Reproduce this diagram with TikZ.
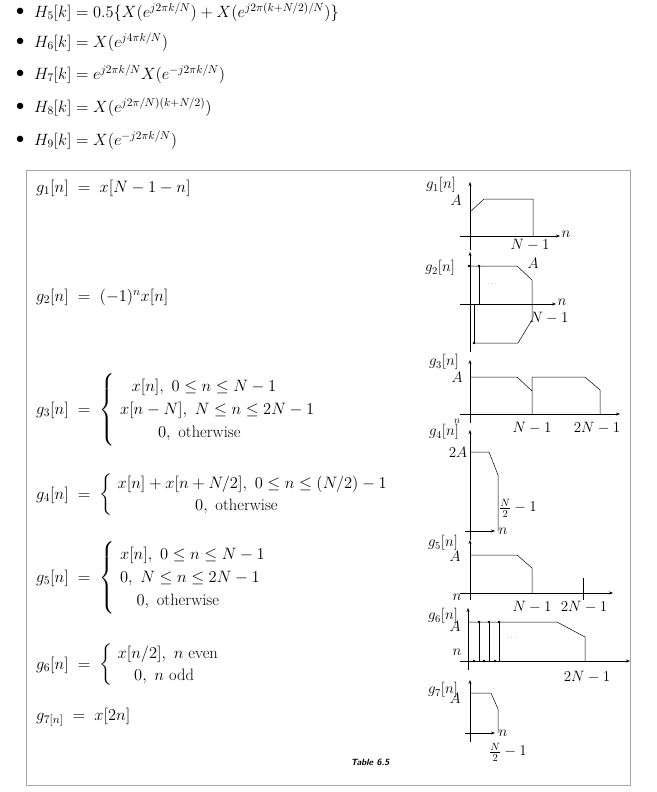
\RequirePackage{fix-cm}
\documentclass[tikz,border=0pt]{standalone}
\usepackage{amsmath}
\usetikzlibrary{arrows.meta}
\begin{document}
\begin{tikzpicture}[x=1pt,y=-1pt,
  lbl/.style={inner sep=0pt,font=\fontsize{15}{18}\selectfont},
  eq/.style={inner sep=0pt,anchor=west,font=\fontsize{16.5}{19}\selectfont},
  top/.style={inner sep=0pt,anchor=west,font=\fontsize{16.4}{19}\selectfont},
  ax/.style={line width=0.5pt,-{Stealth[length=4pt,width=3pt]}},
  sig/.style={line width=0.5pt},
  dot/.style={circle,fill,inner sep=0pt,minimum size=2.6pt}]
\useasboundingbox (0,0) rectangle (656,792);
% top bullet list
\foreach \y/\t [count=\i] in {12/{H_5[k]=0.5\{X(e^{j2\pi k/N})+X(e^{j2\pi(k+N/2)/N})\}},
  42/{H_6[k]=X(e^{j4\pi k/N})},
  74/{H_7[k]=e^{j2\pi k/N}X(e^{-j2\pi k/N})},
  107/{H_8[k]=X(e^{j2\pi/N)(k+N/2)})},
  140/{H_9[k]=X(e^{-j2\pi k/N})}}{
  \node[top] (b\i) at (16,\y) {$\bullet$};
  \node[top] (h\i) at (34,\y) {$\t$};
}
% frame
\draw[gray!70,line width=0.8pt] (26,170) rectangle (630,785);
% left formulas
\node[eq] (f1) at (36,188) {$g_1[n]\;=\;x[N-1-n]$};
\node[eq] (f2) at (36,297) {$g_2[n]\;=\;(-1)^nx[n]$};
\node[eq] (f3) at (36,410) {$g_3[n]\;=\;\begin{cases}\quad x[n],\ 0\le n\le N-1\\ \ x[n-N],\ N\le n\le 2N-1\\ \qquad\ \ 0,\ \text{otherwise}\end{cases}$};
\node[eq] (f4) at (36,495) {$g_4[n]\;=\;\begin{cases}\ x[n]+x[n+N/2],\ 0\le n\le (N/2)-1\\ \qquad\qquad\quad 0,\ \text{otherwise}\end{cases}$};
\node[eq] (f5) at (36,578) {$g_5[n]\;=\;\begin{cases}\ x[n],\ 0\le n\le N-1\\ \ 0,\ N\le n\le 2N-1\\ \quad\ 0,\ \text{otherwise}\end{cases}$};
\node[eq] (f6) at (36,665) {$g_6[n]\;=\;\begin{cases}\ x[n/2],\ n\text{ even}\\ \quad\ 0,\ n\text{ odd}\end{cases}$};
\node[eq] (f7) at (36,717) {$g_{7[n]}\;=\;x[2n]$};
\node[inner sep=0pt,font=\sffamily\bfseries\itshape\small] (cap) at (370,762) {Table 6.5};
% g1
\draw[ax] (470,250) -- (470,182);
\draw[ax] (460,236) -- (560,236);
\draw[sig] (470,212) -- (484,199) -- (533,199) -- (533,236);
\node[lbl] at (441,185) {$g_1[n]$};
\node[lbl] at (456,200) {$A$};
\node[lbl] at (530,245) {$N-1$};
\node[lbl] at (566,234) {$n$};
% g2
\draw[ax] (470,352) -- (470,252);
\draw[ax] (460,304) -- (556,304);
\draw[sig] (469,266) -- (517,266) -- (532,280) -- (532,320) -- (518,343) -- (474,343);
\draw[sig] (479,266) -- (479,304) (474,304) -- (474,343);
\node[dot] at (469,266) {}; \node[dot] at (479,266) {}; \node[dot] at (474,343) {};
\node[lbl,font=\tiny] at (493,284) {$\cdots$};
\node[lbl] at (440,268) {$g_2[n]$};
\node[lbl] at (533,263) {$A$};
\node[lbl] at (549,318) {$N-1$};
\node[lbl] at (562,302) {$n$};
% g3
\draw[ax] (470,423) -- (470,360);
\draw[ax] (460,414) -- (620,414);
\draw[sig] (470,377) -- (517,377) -- (532,391) -- (532,414) -- (532,377) -- (585,377) -- (600,390) -- (600,414);
\node[lbl] at (444,362) {$g_3[n]$};
\node[lbl] at (457,377) {$A$};
\node[lbl] at (532,428) {$N-1$};
\node[lbl] at (597,428) {$2N-1$};
% g4
\draw[ax] (470,540) -- (470,430);
\draw[ax] (465,531) -- (495,531);
\draw[sig] (470,452) -- (489,452) -- (498,475) -- (498,531);
\node[lbl] at (444,432) {$g_4[n]$};
\node[lbl,font=\normalsize] at (457,421) {$n$};
\node[lbl] at (458,452) {$2A$};
\node[lbl] at (518,508) {$\frac{N}{2}-1$};
\node[lbl] at (503,531) {$n$};
% g5
\draw[ax] (470,600) -- (470,540);
\draw[ax] (460,593) -- (613,593);
\draw[sig] (470,555) -- (517,555) -- (532,568) -- (532,593);
\draw[sig] (583,578) -- (583,600);
\node[lbl] at (443,543) {$g_5[n]$};
\node[lbl] at (455,556) {$A$};
\node[lbl] at (532,607) {$N-1$};
\node[lbl] at (584,607) {$2N-1$};
\node[lbl] at (457,597) {$n$};
% g6
\draw[ax] (468,670) -- (468,608);
\draw[ax] (460,661) -- (630,661);
\draw[sig] (468,622) -- (557,622) -- (585,637) -- (585,661);
\foreach \x in {479,489,499}{\draw[sig] (\x,622) -- (\x,661); \node[dot] at (\x,622) {};}
\foreach \x in {474,484,495}{\node[dot] at (\x,661) {};}
\node[lbl,font=\tiny] at (512,638) {$\cdots$};
\node[lbl] at (443,616) {$g_6[n]$};
\node[lbl] at (455,626) {$A$};
\node[lbl] at (457,652) {$n$};
\node[lbl] at (587,677) {$2N-1$};
% g7
\draw[ax] (470,742) -- (470,680);
\draw[ax] (465,733) -- (495,733);
\draw[sig] (470,693) -- (491,693) -- (498,709) -- (498,733);
\node[lbl] at (443,690) {$g_7[n]$};
\node[lbl] at (455,698) {$A$};
\node[lbl] at (503,733) {$n$};
\node[lbl] at (508,752) {$\frac{N}{2}-1$};
\end{tikzpicture}
\end{document}
